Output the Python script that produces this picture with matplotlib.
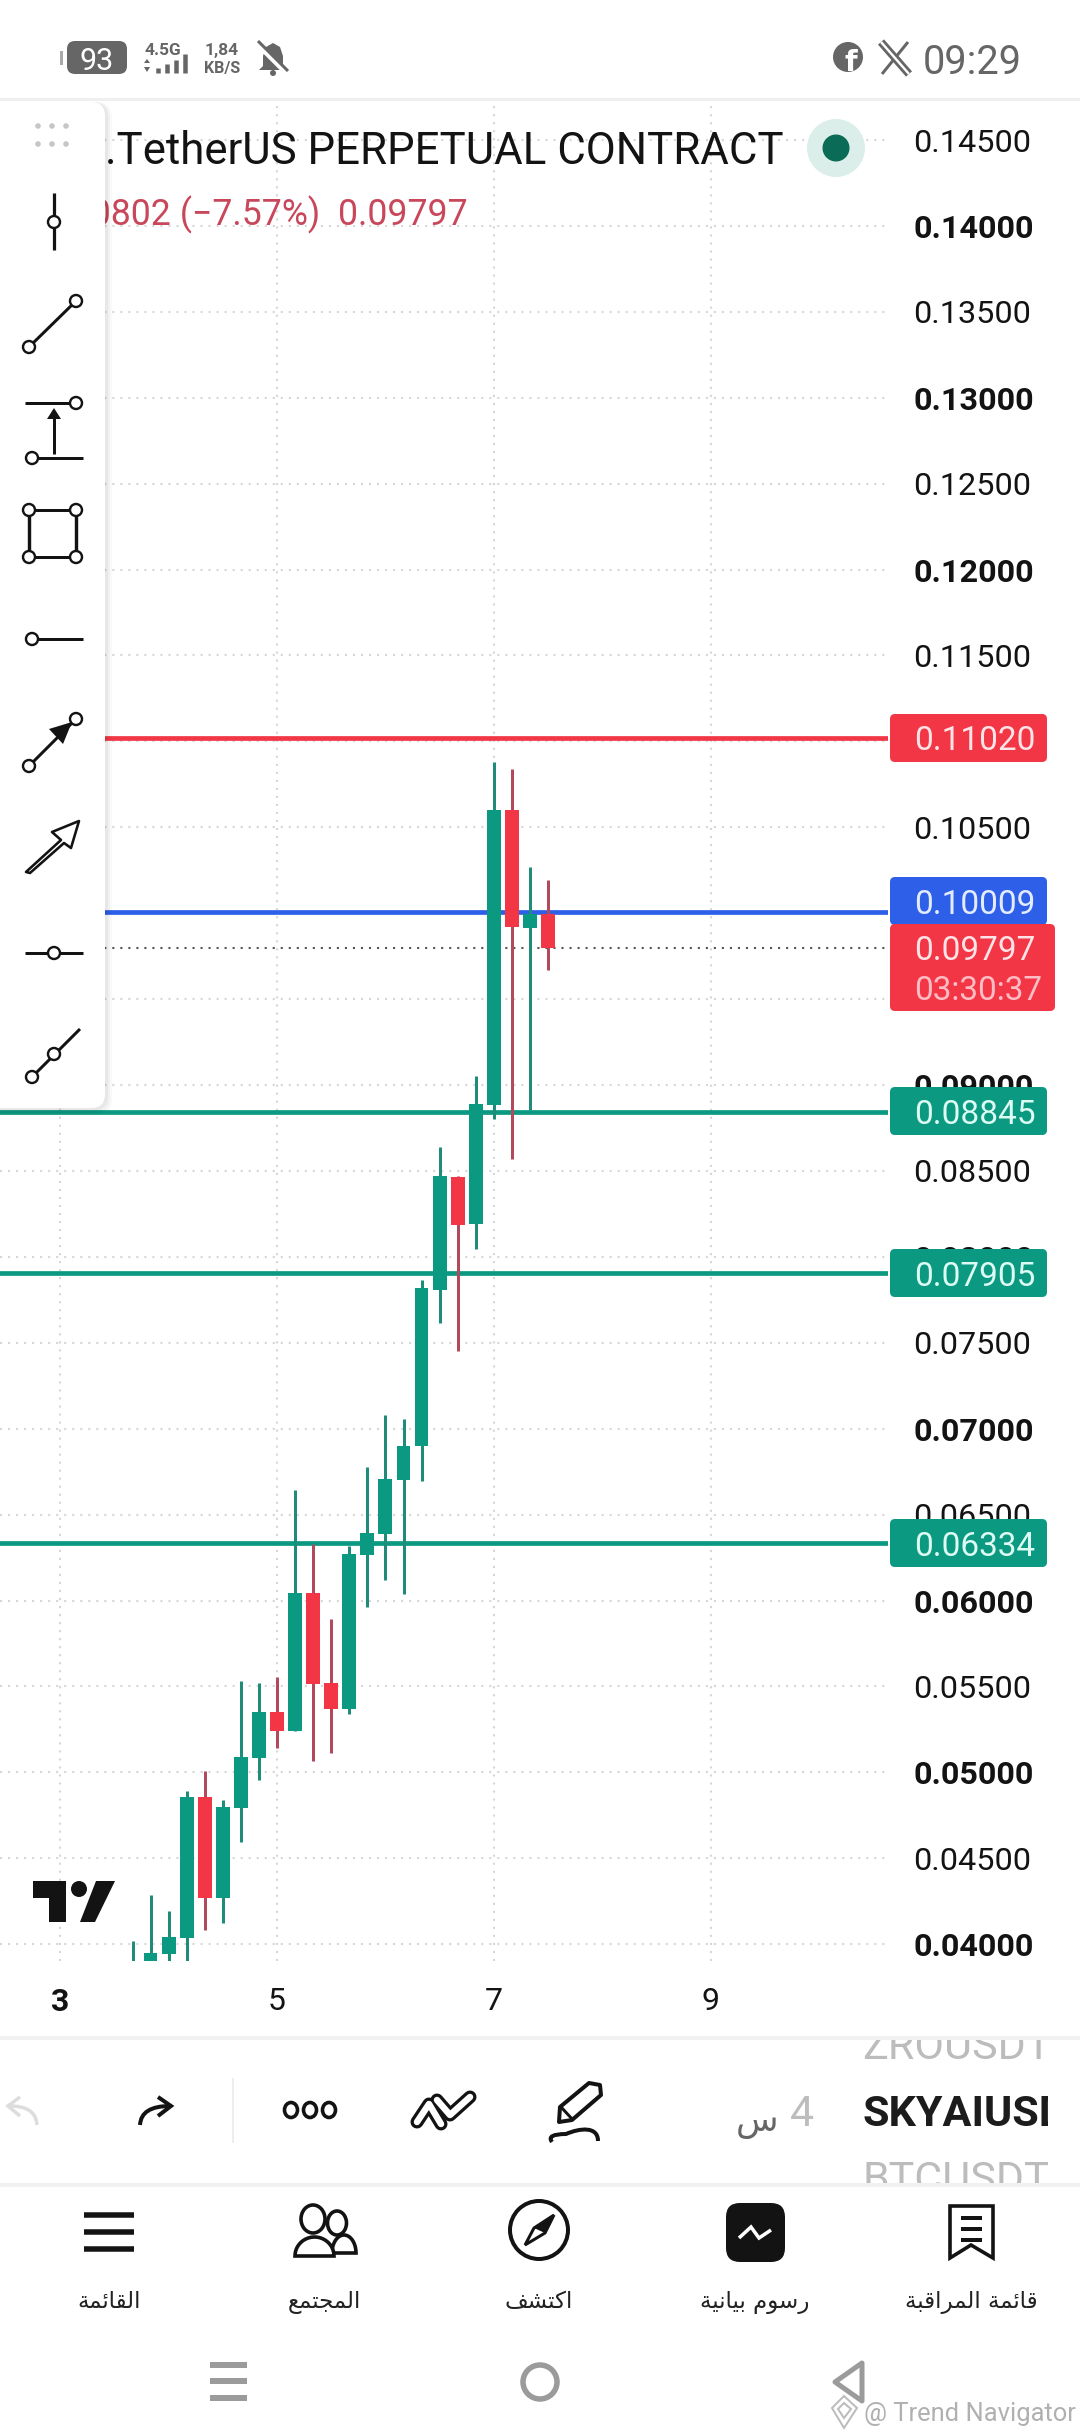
import numpy as np
import matplotlib
matplotlib.use("Agg")
import matplotlib.pyplot as plt
from matplotlib.patches import FancyBboxPatch, Polygon, Circle, Ellipse, Rectangle, PathPatch
from matplotlib.path import Path

# ---------- data ----------
candle_days = [3.667, 3.833, 4.0, 4.167, 4.333, 4.5, 4.667, 4.833, 5.0, 5.167, 5.333, 5.5,
               5.667, 5.833, 6.0, 6.167, 6.333, 6.5, 6.667, 6.833, 7.0, 7.167, 7.333, 7.5]
opens  = [0.0375, 0.0385, 0.03944, 0.04037, 0.04856, 0.0427, 0.04794, 0.05085, 0.05351, 0.05242, 0.06043, 0.0552,
          0.05368, 0.06265, 0.06387, 0.06701, 0.06899, 0.07807, 0.08465, 0.08191, 0.08884, 0.10601, 0.09914, 0.09995]
highs  = [0.04018, 0.04286, 0.04193, 0.04891, 0.05007, 0.04839, 0.05531, 0.0552, 0.05555, 0.06643, 0.06329, 0.05892,
          0.06317, 0.06777, 0.07079, 0.07056, 0.07865, 0.08639, 0.0847, 0.09052, 0.1088, 0.10839, 0.10269, 0.10193]
lows   = [0.0365, 0.0375, 0.0385, 0.0385, 0.04082, 0.04125, 0.04596, 0.04957, 0.05141, 0.05242, 0.05067, 0.05112,
          0.05339, 0.05964, 0.06119, 0.06038, 0.06695, 0.07615, 0.07452, 0.08046, 0.08802, 0.08569, 0.08855, 0.09669]
closes = [0.0380, 0.03948, 0.04041, 0.04856, 0.0427, 0.04798, 0.05089, 0.05351, 0.05242, 0.06043, 0.05516, 0.05368,
          0.0627, 0.06393, 0.06707, 0.06899, 0.07819, 0.0847, 0.08185, 0.08889, 0.10601, 0.0992, 0.09995, 0.09797]

price_ticks = [0.145, 0.14, 0.135, 0.13, 0.125, 0.12, 0.115, 0.11, 0.105, 0.10, 0.095, 0.09,
               0.085, 0.08, 0.075, 0.07, 0.065, 0.06, 0.055, 0.05, 0.045, 0.04]
day_ticks = [3, 5, 7, 9]
red_level, blue_level = 0.1102, 0.10009
green_levels = [0.08845, 0.07905, 0.06334]
last_price = 0.09797
countdown = "03:30:37"
title_text = ".TetherUS PERPETUAL CONTRACT"
change_text = "\u22120.00802 (\u22127.57%)  0.09797"
symbols = ["ZROUSDT", "SKYAIUSDT", "BTCUSDT"]
nav_labels = ["القائمة", "المجتمع", "اكتشف", "رسوم بيانية", "قائمة المراقبة"]

# ---------- style ----------
GREEN, RED, BLUE = "#0b9981", "#f23645", "#2e5fe8"
GWICK, RWICK = "#1f8c7a", "#b04a5c"
INK = "#131313"
plt.rcParams["font.family"] = ["Roboto", "DejaVu Sans"]
W, H = 1080, 2436


def px(n):
    return n * 0.72


# small Arabic shaper: matplotlib draws glyphs left to right without joining
FORMS = {"ا": "ﺍﺎ", "ة": "ﺓﺔ", "ر": "ﺭﺮ", "و": "ﻭﻮ",
         "ب": "ﺏﺐﺑﺒ", "ت": "ﺕﺖﺗﺘ", "ج": "ﺝﺞﺟﺠ", "س": "ﺱﺲﺳﺴ", "ش": "ﺵﺶﺷﺸ",
         "ع": "ﻉﻊﻋﻌ", "ف": "ﻑﻒﻓﻔ", "ق": "ﻕﻖﻗﻘ", "ك": "ﻙﻚﻛﻜ", "ل": "ﻝﻞﻟﻠ",
         "م": "ﻡﻢﻣﻤ", "ن": "ﻥﻦﻧﻨ", "ي": "ﻱﻲﻳﻴ", "ئ": "ﺉﺊﺋﺌ"}


def shape(s):
    out = []
    for i, c in enumerate(s):
        if c not in FORMS:
            out.append(c)
            continue
        prev = s[i - 1] if i else " "
        nxt = s[i + 1] if i + 1 < len(s) else " "
        jp = prev in FORMS and len(FORMS[prev]) == 4
        jn = nxt in FORMS and len(FORMS[c]) == 4
        if len(FORMS[c]) == 2:
            out.append(FORMS[c][1 if jp else 0])
        else:
            out.append(FORMS[c][(2 if jn else 0) + (1 if jp else 0)])
    return "".join(reversed(out))


fig = plt.figure(figsize=(W / 100, H / 100), dpi=100, facecolor="white")

# ---------- main chart ----------
ax = fig.add_axes([0, 1 - 1961 / H, 888 / W, (1961 - 100) / H], zorder=1)
ax.set_xlim(2.4446, 10.6365)
ax.set_ylim(0.03902, 0.14733)
for s in ax.spines.values():
    s.set_visible(False)
ax.set_axisbelow(True)
dots = (0, (1, 2.85))
ax.grid(True, color="#d6d6d6", lw=1.5, linestyle=dots)

ax.yaxis.tick_right()
ax.set_yticks(price_ticks)
ax.set_yticklabels([f"{p:.5f}" for p in price_ticks], fontsize=23.3, color=INK)
ax.tick_params(axis="y", length=0, pad=18.2)
for lab, p in zip(ax.get_yticklabels(), price_ticks):
    if round(p * 1000) % 10 == 0:
        lab.set_fontweight("bold")
ax.set_xticks(day_ticks)
ax.set_xticklabels([str(d) for d in day_ticks], fontsize=23, color=INK)
ax.tick_params(axis="x", length=0, pad=19)
ax.get_xticklabels()[0].set_fontweight("bold")

for lv, c in [(red_level, RED), (blue_level, BLUE)] + [(g, GREEN) for g in green_levels]:
    ax.axhline(lv, color=c, lw=px(4.7), zorder=2.5)
ax.axhline(last_price, color="#555555", lw=1.5, linestyle=dots, zorder=2.2)

up = [c >= o for o, c in zip(opens, closes)]
ax.vlines(candle_days, lows, highs, colors=[GWICK if u else RWICK for u in up], lw=px(3), zorder=3)
ax.bar(candle_days, [abs(c - o) for o, c in zip(opens, closes)], bottom=[min(o, c) for o, c in zip(opens, closes)],
       width=0.129, color=[GREEN if u else RED for u in up], linewidth=0, zorder=4)

# ---------- interface overlay in screen pixels ----------
ov = fig.add_axes([0, 0, 1, 1], zorder=5)
ov.set_xlim(0, W)
ov.set_ylim(H, 0)
ov.axis("off")
ov.patch.set_alpha(0)


def line(xs, ys, c=INK, w=3, z=6, **k):
    ov.plot(xs, ys, color=c, lw=px(w), zorder=z, solid_capstyle=k.pop("cap", "butt"), solid_joinstyle="miter", **k)


def txt(x, y, s, size, c=INK, ha="center", weight="normal", z=6, **k):
    return ov.text(x, y, s, fontsize=size, color=c, ha=ha, va="center_baseline", fontweight=weight, zorder=z, **k)


def ring(x, y, r=6, w=2.4, z=7):
    ov.add_patch(Circle((x, y), r, fc="white", ec=INK, lw=px(w), zorder=z))


def label_box(x1, y0, y1, c):
    ov.add_patch(FancyBboxPatch((890, y0), x1 - 890, y1 - y0, boxstyle="round,pad=0,rounding_size=5",
                                fc=c, ec="none", zorder=6))


# status bar
ov.add_patch(Rectangle((0, 98), W, 3, fc="#efefef", ec="none", zorder=3))
GR = "#666666"
ov.add_patch(FancyBboxPatch((67, 41), 60, 33, boxstyle="round,pad=0,rounding_size=8", fc=GR, ec="none", zorder=6))
ov.add_patch(Rectangle((60, 51), 3, 14, fc="#aaaaaa", ec="none", zorder=6))
txt(97, 58, "93", 22, "white")
txt(163, 49, "4.5G", 12.5, GR, weight="bold")
txt(222, 49, "1,84", 12.5, GR, weight="bold")
txt(222, 67, "KB/S", 11.5, GR, weight="bold")
ov.add_patch(Polygon([[147, 59], [150, 63], [144, 63]], fc=GR, ec="none", zorder=6))
ov.add_patch(Polygon([[147, 72], [150, 67], [144, 67]], fc=GR, ec="none", zorder=6))
for bx, top in zip([158, 167, 176, 185], [68, 64, 60, 54]):
    line([bx, bx], [top, 73], GR, 4.5)
ov.add_patch(Polygon([[263, 66], [263, 56], [266, 47], [273, 43], [280, 47], [283, 56], [283, 66], [287, 70], [259, 70]],
                     fc=GR, ec="none", zorder=6))
ov.add_patch(Circle((273, 73), 3, fc=GR, ec="none", zorder=6))
line([258, 288], [44, 74], "white", 6, z=7)
line([258, 288], [41, 71], GR, 3, z=8)
ov.add_patch(Circle((848, 57), 15, fc=GR, ec="none", zorder=6))
txt(851, 60, "f", 21, "white", weight="bold", z=7, family="DejaVu Sans")
line([881, 909], [42, 74], GR, 8, z=6)
line([882, 908], [74, 42], GR, 3, z=6)
line([881, 909], [42, 74], "white", 2.4, z=7)
txt(972, 58, "09:29", 28.5, GR)

# title block
txt(105, 147, title_text, 31.5, INK, ha="left", z=2)
txt(468, 211, change_text, 25.7, "#c8475a", ha="right", z=2)
ov.add_patch(Circle((836, 148), 29, fc="#dceeea", ec="none", zorder=2))
ov.add_patch(Circle((836, 148), 13.5, fc="#0a6b57", ec="none", zorder=3))

# TradingView mark
ov.add_patch(Polygon([[33, 1881], [66, 1881], [66, 1922], [49, 1922], [49, 1898], [33, 1898]], fc=INK, ec="none", zorder=6))
ov.add_patch(Circle((79, 1889), 8, fc=INK, ec="none", zorder=6))
ov.add_patch(Polygon([[96, 1881], [115, 1881], [95, 1922], [80, 1922]], fc=INK, ec="none", zorder=6))

# price labels
label_box(1047, 714, 762, RED)
txt(914, 738, f"{red_level:.5f}", 24, "#ffe3e6", ha="left", z=7)
label_box(1047, 877, 925, BLUE)
txt(914, 901, f"{blue_level:.5f}", 24, "#e3ecff", ha="left", z=7)
label_box(1055, 924, 1011, RED)
txt(914, 948, f"{last_price:.5f}", 24, "#ffe3e6", ha="left", z=7)
txt(914, 987, countdown, 24, "#ffbcc4", ha="left", z=7)
for g, yc in zip(green_levels, [1111, 1273, 1543]):
    label_box(1047, yc - 24, yc + 24, GREEN)
    txt(914, yc, f"{g:.5f}", 24, "#dcfbf3", ha="left", z=7)

# drawing toolbar
for off, a in [(7, .025), (5, .03), (3, .04)]:
    ov.add_patch(FancyBboxPatch((-20, 102), 125 + off, 1006 + off, boxstyle="round,pad=0,rounding_size=16",
                                fc="black", alpha=a, ec="none", zorder=3.5))
ov.add_patch(FancyBboxPatch((-20, 102), 125, 1006, boxstyle="round,pad=0,rounding_size=14", fc="white", ec="none", zorder=4))
for dx in [38, 52, 66]:
    for dy in [126, 144]:
        ov.add_patch(Circle((dx, dy), 2.8, fc="#c6c6c6", ec="none", zorder=6))
line([54, 54], [193, 250], w=3.2); ring(54, 222)
line([29, 76], [347, 301]); ring(29, 347); ring(76, 301)
line([25, 76], [403, 403]); line([32, 83], [458, 458]); ring(76, 403); ring(32, 458)
line([54, 54], [454, 418], w=3)
ov.add_patch(Polygon([[54, 408], [61, 419], [47, 419]], fc=INK, ec="none", zorder=6))
line([29, 76], [510, 510]); line([29, 76], [557, 557]); line([29, 29], [510, 557], w=3.4); line([76, 76], [510, 557], w=3.4)
for cx in (29, 76):
    for cy in (510, 557):
        ring(cx, cy)
line([32, 83], [639, 639]); ring(32, 639)
line([29, 76], [766, 719]); ring(29, 766); ring(76, 719)
ov.add_patch(Polygon([[72, 722], [49, 729], [63, 744]], fc=INK, ec="none", zorder=6))
ov.add_patch(Polygon([[26, 872], [61, 840], [52, 832], [79, 821], [71, 848], [64, 843], [30, 873]],
                     fc="white", ec=INK, lw=px(2.6), joinstyle="round", zorder=6))
line([25, 83], [953, 953]); ring(54, 953)
line([32, 80], [1077, 1029]); ring(32, 1077); ring(54, 1054)

# lower separators
ov.add_patch(Rectangle((0, 2036), W, 4, fc="#f1f1f1", ec="none", zorder=6))
ov.add_patch(Rectangle((0, 2183), W, 4, fc="#f1f1f1", ec="none", zorder=6))

# lower toolbar
ov.add_patch(PathPatch(Path([(37, 2125), (36, 2106), (10, 2106)], [Path.MOVETO, Path.CURVE3, Path.CURVE3]),
                       fc="none", ec="#dddddd", lw=px(3.5), zorder=6))
line([20, 8, 20], [2097, 2106, 2116], "#dddddd", 3.5)
ov.add_patch(PathPatch(Path([(140, 2125), (141, 2106), (170, 2106)], [Path.MOVETO, Path.CURVE3, Path.CURVE3]),
                       fc="none", ec=INK, lw=px(4), zorder=6))
line([158, 171, 158], [2097, 2106, 2116], INK, 4)
line([233, 233], [2078, 2143], "#eeeeee", 2)
for cx in (291, 310, 329):
    ov.add_patch(Ellipse((cx, 2110), 13, 15, fc="white", ec=INK, lw=px(3.6), zorder=6))
for xs, ys in [([417, 429, 441], [2122, 2104, 2124]), ([437, 450, 470], [2100, 2115, 2097])]:
    ov.plot(xs, ys, color=INK, lw=px(13), zorder=6, solid_joinstyle="round", solid_capstyle="round")
    ov.plot(xs, ys, color="white", lw=px(6.5), zorder=7, solid_joinstyle="round", solid_capstyle="round")
ov.add_patch(Polygon([[559, 2122], [560, 2107], [589, 2083], [600, 2085], [601, 2095], [572, 2120]],
                     fc="white", ec=INK, lw=px(4), joinstyle="round", zorder=6))
line([561, 573], [2107, 2120], INK, 3)
ov.add_patch(PathPatch(Path([(552, 2142), (546, 2134), (566, 2134), (580, 2128), (598, 2126), (598, 2141)],
                            [Path.MOVETO, Path.CURVE3, Path.CURVE3, Path.CURVE4, Path.CURVE4, Path.CURVE4]),
                       fc="none", ec=INK, lw=px(4), zorder=6))
txt(802, 2110, "4", 31, "#bdbdbd")
txt(757, 2118, shape("س"), 25, "#666666", family="DejaVu Sans")
clip = Rectangle((855, 2040), 193, 143, transform=ov.transData)
for sym, yc, col, wt in zip(symbols, [2043, 2110, 2176], ["#bcbcbc", "#1c1c1c", "#bcbcbc"], ["normal", "bold", "normal"]):
    t = txt(862, yc, sym, 31, col, ha="left", weight=wt)
    t.set_clip_path(clip)
    t.set_clip_on(True)

# bottom navigation
for yy in (2215, 2232, 2249):
    line([84, 134], [yy, yy], INK, 5.5)


def dome(x0, x1, top, bot):
    th = np.linspace(np.pi, 0, 30)
    xc, rx = (x0 + x1) / 2, (x1 - x0) / 2
    pts = np.c_[xc + rx * np.cos(th), bot - (bot - top) * np.sin(th)]
    return Polygon(pts, closed=True, fc="white", ec=INK, lw=px(3.6), zorder=6)


ov.add_patch(dome(332, 356, 2235, 2253))
ov.add_patch(Ellipse((337, 2223), 19, 24, fc="white", ec=INK, lw=px(3.6), zorder=6))
ov.add_patch(dome(295, 334, 2237, 2256))
ov.add_patch(Ellipse((313, 2219), 24, 28, fc="white", ec=INK, lw=px(3.6), zorder=7))
ov.add_patch(Circle((539, 2230), 29, fc="white", ec=INK, lw=px(4), zorder=6))
ov.add_patch(Polygon([[554, 2215], [534, 2228], [525, 2245], [545, 2233]], fc="white", ec=INK, lw=px(3), zorder=6))
ov.add_patch(Polygon([[554, 2215], [534, 2228], [545, 2233]], fc=INK, ec="none", zorder=7))
ov.add_patch(FancyBboxPatch((726, 2203), 59, 59, boxstyle="round,pad=0,rounding_size=14", fc=INK, ec="none", zorder=6))
line([739, 751, 759, 771], [2238, 2227, 2238, 2230], "white", 3.5, z=7)
ov.add_patch(Polygon([[950, 2206], [993, 2206], [993, 2258], [971, 2245], [950, 2258]], fc="white", ec=INK, lw=px(3.6), zorder=6))
for yy in (2218, 2229, 2240):
    line([961, 982], [yy, yy], INK, 4, z=7)
for xc, lab in zip([109, 324, 539, 755, 971], nav_labels):
    txt(xc, 2299, shape(lab), 16.5, "#222222", family="DejaVu Sans")

# system navigation
NG = "#9b9b9b"
for yy in (2365, 2381, 2398):
    line([210, 247], [yy, yy], NG, 6)
ov.add_patch(Ellipse((540, 2382), 34, 34, fc="none", ec=NG, lw=px(5.5), zorder=6))
ov.add_patch(Polygon([[835, 2382], [862, 2363], [862, 2401]], fc="none", ec=NG, lw=px(5), joinstyle="round", zorder=6))

# watermark
ov.add_patch(Polygon([[844, 2396], [857, 2408], [844, 2428], [832, 2408]], fc="none", ec="#bcbcbc", lw=px(2), zorder=8))
ov.add_patch(Polygon([[844, 2403], [851, 2409], [844, 2418], [838, 2409]], fc="none", ec="#bcbcbc", lw=px(2), zorder=8))
txt(864, 2412, "@ Trend Navigator", 18.4, "#a8a8a8", ha="left", z=8, alpha=.9)

fig.savefig("out.png", dpi=100, facecolor="white")
